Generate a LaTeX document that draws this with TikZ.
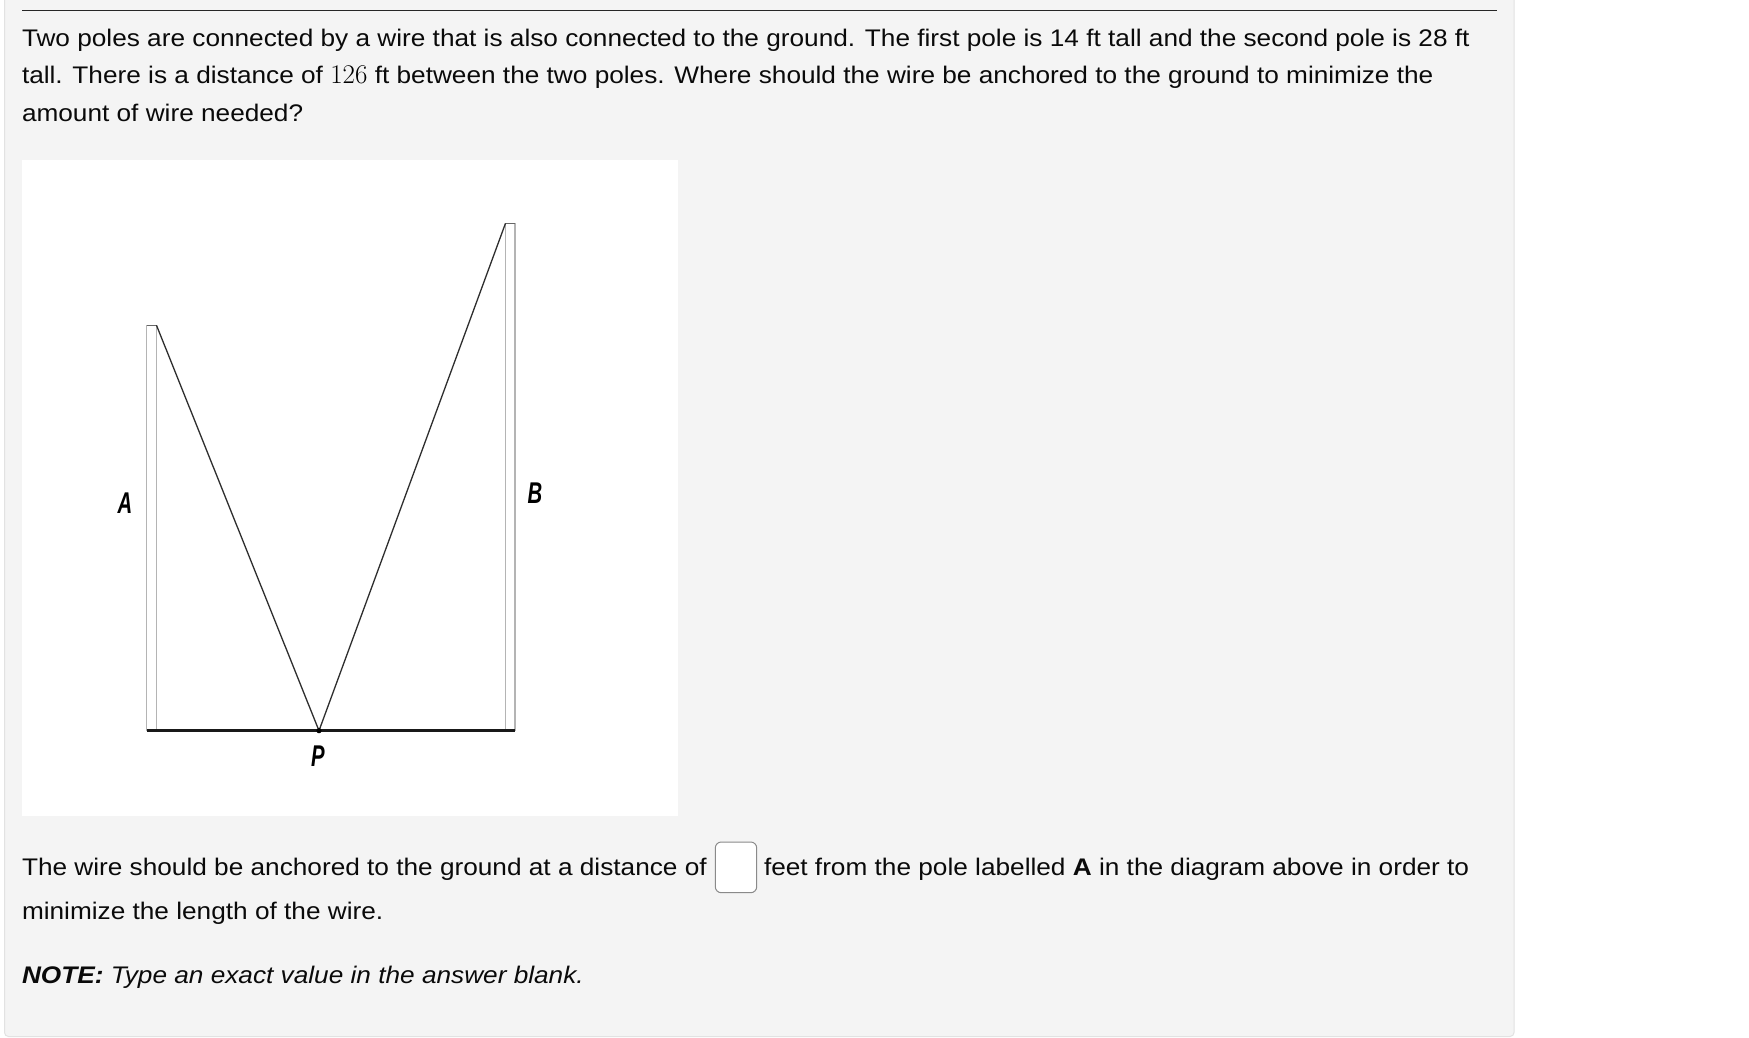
\documentclass[tikz,border=0pt]{standalone}
\usepackage{fontspec}
\setmainfont{Liberation Sans}[FakeStretch=1.092]
\usepackage{graphicx}
\definecolor{panelbg}{HTML}{F4F4F4}
\definecolor{panelborder}{HTML}{E2E2E2}
\definecolor{polegrey}{HTML}{B4B4B4}
\definecolor{wiregrey}{HTML}{2E2E2E}
\definecolor{boxborder}{HTML}{8A8A8A}
\definecolor{txt}{HTML}{0A0A0A}
\begin{document}
\begin{tikzpicture}[x=1pt,y=-1pt,
  body/.style={anchor=base west,inner sep=0pt,outer sep=0pt,text=txt,font=\fontsize{24}{28}\selectfont},
  lab/.style={inner sep=0pt,text=black,font=\fontsize{30}{32}\selectfont\bfseries\itshape},
  pole/.style={draw=polegrey,line width=1.1pt},
  poletop/.style={draw=gray!80!black,line width=1.1pt},
  wire/.style={draw=wiregrey,line width=1.3pt},
  ground/.style={draw=black!90,line width=3pt}]
\useasboundingbox (0,0) rectangle (1749,1038);
\fill[white] (0,0) rectangle (1749,1038);
% panel
\draw[fill=panelbg,draw=panelborder,line width=1pt,rounded corners=4pt] (4.5,-10) rectangle (1514,1036.5);
% top rule
\draw[black!85,line width=1.2pt] (22,10.3) -- (1497,10.3);
% question text
\node[body] (q1) at (22,46.5) {Two poles are connected by a wire that is also connected to the ground. The first pole is 14 ft tall and the second pole is 28 ft};
\node[body] (q2) at (22,84) {tall. There is a distance of {\fontspec{Latin Modern Roman}\fontsize{27}{28}\selectfont\color{black}126} ft between the two poles. Where should the wire be anchored to the ground to minimize the};
\node[body] (q3) at (22,121.5) {amount of wire needed?};
% figure panel
\fill[white] (22,160) rectangle (678,815.7);
% geometry
\coordinate (Agl) at (146.7,730.7);
\coordinate (Atop) at (156.5,325.3);
\coordinate (Bgr) at (515,730.7);
\coordinate (Btop) at (505.5,223.3);
\coordinate (P) at (319,730.7);
\draw[pole] (146.7,730.7) -- (146.7,325.3) -- (156.5,325.3) -- (156.5,730.7);
\draw[poletop] (146.7,325.3) -- (156.5,325.3);
\draw[pole] (505.5,730.7) -- (505.5,223.3) -- (515,223.3) -- (515,730.7);
\draw[poletop] (505.5,223.3) -- (515,223.3);
\draw[wire] (Atop) -- (P) -- (Btop);
\draw[ground] (Agl) -- (Bgr);
\fill[black] (P) circle (2.6pt);
\node[lab] (A) at (125,503) {\scalebox{0.62}[1]{A}};
\node[lab] (B) at (535,493) {\scalebox{0.62}[1]{B}};
\node[lab] (Pl) at (318,756.5) {\scalebox{0.62}[1]{P}};
% answer text
\node[body] (a1) at (22,875) {The wire should be anchored to the ground at a distance of};
\draw[draw=boxborder,fill=white,line width=1pt,rounded corners=6pt] (715.3,842) rectangle (756.7,892.7);
\node[body] (a1b) at (764,875) {feet from the pole labelled \textbf{A} in the diagram above in order to};
\node[body] (a2) at (22,919) {minimize the length of the wire.};
\node[body] (a3) at (22,983) {\textbf{\textit{NOTE:}} \textit{Type an exact value in the answer blank.}};
\end{tikzpicture}
\end{document}
